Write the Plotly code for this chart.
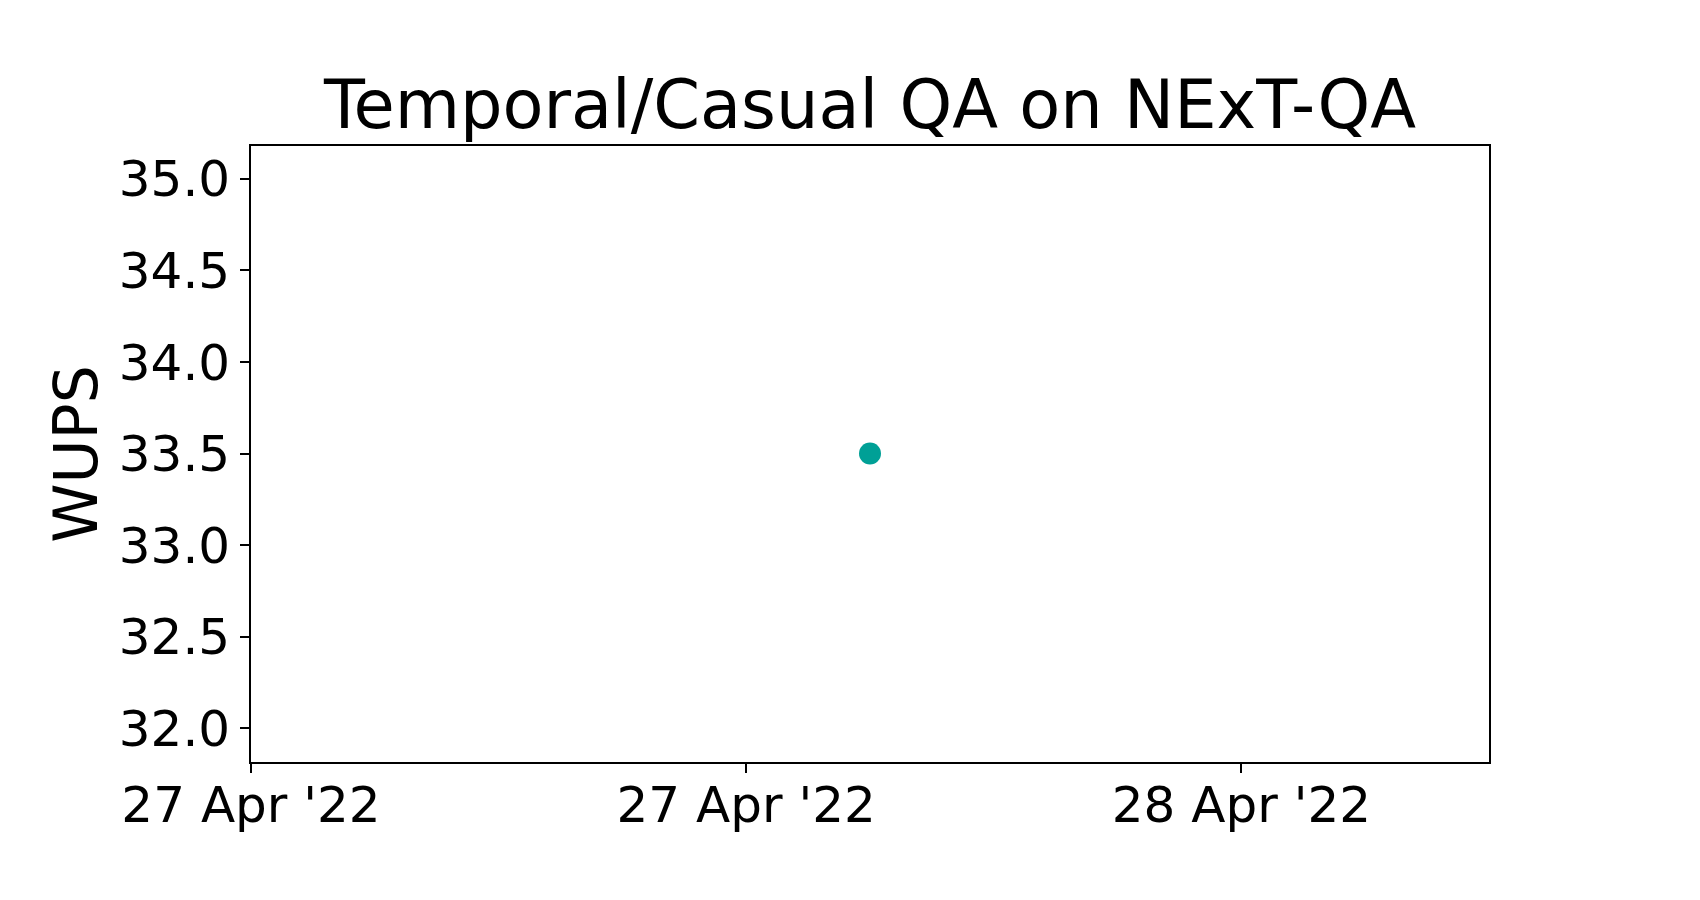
import plotly.graph_objects as go

# data
dates = ["2022-04-27 15:00"]
wups = [33.5]
chart_title = "Temporal/Casual QA on NExT-QA"
y_label = "WUPS"

font_family = "DejaVu Sans"
point_color = "#00a096"

fig = go.Figure()
fig.add_trace(go.Scatter(
    x=dates, y=wups, mode="markers",
    marker=dict(color=point_color, size=22),
    showlegend=False,
))

fig.update_layout(
    width=1700, height=900,
    margin=dict(l=243, r=219, t=138, b=146),
    paper_bgcolor="white", plot_bgcolor="white",
    font=dict(family=font_family, color="black", size=50),
    title=dict(
        text=chart_title, font=dict(size=67),
        x=0.5, xref="paper", xanchor="center",
        y=1, yref="paper", yanchor="bottom",
        pad=dict(b=18),
    ),
)

fig.update_xaxes(
    type="date",
    range=["2022-04-27 00:00", "2022-04-28 06:00"],
    tick0="2022-04-27 00:00", dtick=12 * 3600 * 1000,
    tickformat="%d %b '%y",
    showgrid=False, zeroline=False,
    showline=True, linecolor="black", linewidth=1.8, mirror=True,
    ticks="outside", ticklen=9, tickwidth=1.6, tickcolor="black",
    ticklabelstandoff=-11,
)
fig.update_yaxes(
    range=[31.815, 35.18],
    dtick=0.5, tick0=32, tickformat=".1f",
    showgrid=False, zeroline=False,
    showline=True, linecolor="black", linewidth=1.8, mirror=True,
    ticks="outside", ticklen=9, tickwidth=1.6, tickcolor="black",
    ticklabelstandoff=0,
    title=dict(text=y_label, font=dict(size=60), standoff=2),
)

fig.write_html("out.html")
